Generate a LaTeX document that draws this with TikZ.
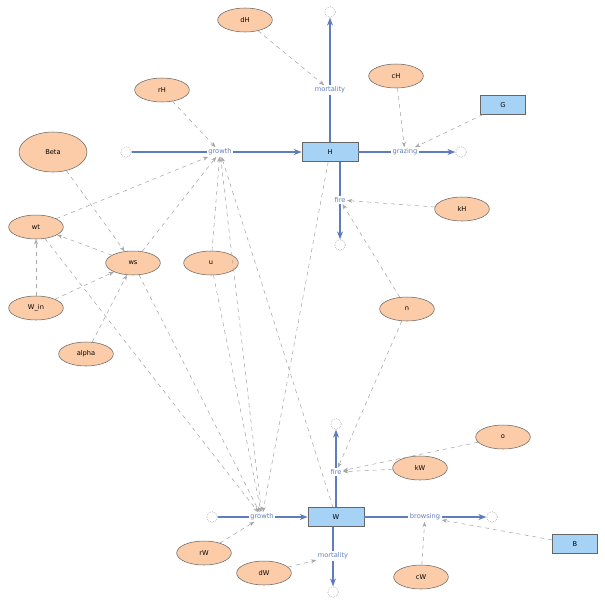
\documentclass[tikz,border=0pt]{standalone}
\usepackage{fontspec}
\setmainfont{DejaVu Sans}
\usetikzlibrary{arrows.meta,shapes.geometric}
\definecolor{aux}{RGB}{252,204,168}
\definecolor{stock}{RGB}{166,210,245}
\definecolor{flow}{RGB}{95,125,190}
\begin{document}
\begin{tikzpicture}[x=0.75pt,y=-0.75pt,
    var/.style={draw=black!60, fill=aux, ellipse, minimum width=41pt, minimum height=18pt, inner sep=0pt, font=\tiny},
    lvl/.style={draw=black!60, fill=stock, rectangle, minimum width=42pt, minimum height=14pt, inner sep=0pt, font=\tiny},
    cloud/.style={draw=black!50, densely dotted, circle, minimum size=8pt, inner sep=0pt},
    valve/.style={inner sep=1pt, text=flow, font=\tiny},
    pipe/.style={flow, line width=1.1pt, -{Stealth[length=6pt]}},
    link/.style={gray!70, dashed, -{Stealth[length=4pt]}},
    plain/.style={gray!70, dashed}]
    \useasboundingbox (0,0) rectangle (605,600);
    % stocks and constants
    \node[lvl] (H) at (330,152) {H};
    \node[lvl] (W) at (336,517) {W};
    \node[lvl, minimum width=34pt] (G) at (503,105) {G};
    \node[lvl, minimum width=34pt] (B) at (575,544) {B};
    
    % auxiliaries
    \node[var] (dH) at (245,20) {dH};
    \node[var] (rH) at (162,90) {rH};
    \node[var] (cH) at (396,76) {cH};
    \node[var, minimum width=51pt, minimum height=30pt] (Beta) at (53,152) {Beta};
    \node[var] (kH) at (462,209) {kH};
    \node[var] (wt) at (36,227) {wt};
    \node[var] (ws) at (133,263) {ws};
    \node[var] (u) at (211,263) {u};
    \node[var] (Win) at (36,308) {W\_in};
    \node[var] (n) at (407,309) {n};
    \node[var] (alpha) at (86,354) {alpha};
    \node[var] (o) at (503,437) {o};
    \node[var] (kW) at (420,468) {kW};
    \node[var] (rW) at (204,553) {rW};
    \node[var] (dW) at (264,573) {dW};
    \node[var] (cW) at (421,577) {cW};
    
    % clouds
    \node[cloud] (srcH) at (126,152) {};
    \node[cloud] (sinkG) at (461,152) {};
    \node[cloud] (sinkMH) at (330,12) {};
    \node[cloud] (sinkFH) at (340,245) {};
    \node[cloud] (srcW) at (212,517) {};
    \node[cloud] (sinkBr) at (492,517) {};
    \node[cloud] (sinkFW) at (336,424) {};
    \node[cloud] (sinkMW) at (333,592) {};
    
    % valves
    \node[valve] (gH) at (220,152) {growth};
    \node[valve] (graz) at (405,152) {grazing};
    \node[valve] (mH) at (330,90) {mortality};
    \node[valve] (fH) at (340,200) {fire};
    \node[valve] (gW) at (262,517) {growth};
    \node[valve] (brow) at (425,517) {browsing};
    \node[valve] (fW) at (336,472) {fire};
    \node[valve] (mW) at (333,556) {mortality};
    
    % flows
    \draw[pipe] (srcH) -- (gH) -- (H);
    \draw[pipe] (H) -- (graz) -- (sinkG);
    \draw[pipe] (H.north) -- (mH) -- (sinkMH);
    \draw[pipe] (fH.north |- H.south) -- (fH) -- (sinkFH);
    \draw[pipe] (srcW) -- (gW) -- (W);
    \draw[pipe] (W) -- (brow) -- (sinkBr);
    \draw[pipe] (W.north) -- (fW) -- (sinkFW);
    \draw[pipe] (mW.north |- W.south) -- (mW) -- (sinkMW);
    
    % links
    \draw[link] (dH) -- (mH);
    \draw[link] (rH) -- (gH);
    \draw[link] (cH) -- (graz);
    \draw[link] (G) -- (graz);
    \draw[link] (kH) -- (fH);
    \draw[link] (n) -- (fH);
    \draw[link] (wt) -- (gH);
    \draw[link] (ws) -- (gH);
    \draw[link] (u) -- (gH);
    \draw[link] (W) -- (gH);
    \draw[link] (Beta) -- (ws);
    \draw[link] (ws) -- (wt);
    \draw[link] (Win) -- (wt);
    \draw[link] (Win) -- (ws);
    \draw[link] (alpha) -- (ws);
    \draw[link] (wt) -- (gW);
    \draw[link] (ws) -- (gW);
    \draw[link] (u) -- (gW);
    \draw[link] (H) -- (gW);
    \draw[plain] (gH) -- (gW);
    \draw[link] (n) -- (fW);
    \draw[link] (o) -- (fW);
    \draw[link] (kW) -- (fW);
    \draw[link] (rW) -- (gW);
    \draw[link] (dW) -- (mW);
    \draw[link] (cW) -- (brow);
    \draw[link] (B) -- (brow);
\end{tikzpicture}
\end{document}
